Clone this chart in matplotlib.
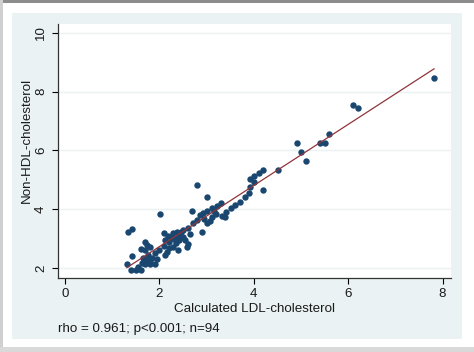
import matplotlib
matplotlib.use("Agg")
import matplotlib.pyplot as plt
import numpy as np
from matplotlib.patches import Rectangle

# 값은 그림에서 읽은 추정치
ldl = [1.31, 1.40, 1.50, 1.60, 1.41, 1.33, 1.41, 1.60, 1.69, 1.79,
       1.69, 1.73, 1.66, 1.73, 1.79, 1.84, 1.62, 1.69, 1.80, 1.91,
       1.91, 2.00, 2.12, 2.10, 2.01, 1.55, 1.75,
       2.10, 2.19, 2.12, 2.20, 2.25, 2.29, 2.37, 2.45, 2.51, 2.61,
       2.20, 2.28, 2.35, 2.40, 2.30, 2.50, 2.55, 2.60, 2.42, 2.65,
       2.71, 2.79, 2.70, 2.80, 2.90, 2.92, 3.00, 3.00, 3.07, 3.11,
       3.01, 2.85, 2.95, 2.58, 2.15, 1.95,
       3.11, 3.21, 3.31, 3.32, 3.39, 3.41, 3.51, 3.60, 3.20, 3.70,
       3.81, 3.90, 3.92, 4.00, 3.92, 4.01, 4.11, 4.20, 4.20, 3.15, 2.40,
       4.51, 4.91, 5.00, 5.11, 5.40, 5.51, 5.60, 6.11, 6.20, 7.82]
non_hdl = [2.12, 1.92, 1.92, 1.92, 2.42, 3.22, 3.32, 2.64, 2.61, 2.70,
           2.89, 2.78, 2.33, 2.27, 2.21, 2.33, 2.16, 2.14, 2.14, 2.14,
           2.50, 2.61, 2.44, 2.75, 3.83, 2.02, 2.45,
           3.18, 3.10, 2.95, 2.90, 3.05, 3.20, 3.24, 3.24, 3.29, 3.35,
           2.68, 2.70, 2.85, 2.60, 3.00, 3.05, 2.95, 2.80, 2.95, 3.15,
           3.54, 3.63, 3.94, 4.82, 3.23, 3.86, 3.95, 3.52, 3.60, 3.75,
           4.43, 3.80, 3.65, 2.70, 2.55, 2.30,
           4.03, 4.11, 4.20, 3.77, 3.72, 3.91, 4.03, 4.14, 3.85, 4.25,
           4.43, 4.54, 4.75, 4.94, 5.03, 5.13, 5.24, 5.33, 4.65, 3.95, 3.10,
           5.33, 6.24, 5.94, 5.64, 6.24, 6.24, 6.55, 7.54, 7.43, 8.45]

x_ticks = [0, 2, 4, 6, 8]
y_ticks = [2, 4, 6, 8, 10]
note = "rho = 0.961; p<0.001; n=94"

plt.rcParams['font.family'] = ['Liberation Sans', 'DejaVu Sans']

W, H = 474, 352
fig = plt.figure(figsize=(W / 100, H / 100), dpi=100)
fig.patch.set_facecolor("white")

def px_rect(x0, y0, x1, y1, color):
    fig.add_artist(Rectangle((x0 / W, 1 - y1 / H), (x1 - x0) / W, (y1 - y0) / H,
                             transform=fig.transFigure, facecolor=color,
                             edgecolor="none", zorder=0))

# 테두리와 그래프 영역 배경
px_rect(0, 0, W, 2.5, "#8c8c8c")
px_rect(0, 0, 3, H, "#d0d0d0")
px_rect(0, 347, W, H, "#d9d9d9")
px_rect(12, 13, 462, 339, "#eaf2f3")

ax = fig.add_axes([58 / W, 1 - 278 / H, (451 - 58) / W, (278 - 24) / H])
ax.set_facecolor("white")

ax.plot(ldl, non_hdl, "o", color="#1a476f", markersize=4.6, markeredgewidth=0, zorder=3)

# 선형 적합선
b, a = np.polyfit(ldl, non_hdl, 1)
xs = np.array([min(ldl), max(ldl)])
ax.plot(xs, a + b * xs, color="#90353b", linewidth=0.9, zorder=4)

ax.set_xlim(-0.15, 8.18)
ax.set_ylim(1.66, 10.30)
ax.set_xticks(x_ticks)
ax.set_yticks(y_ticks)
ax.set_yticklabels([str(v) for v in y_ticks], rotation=90, va="center")
ax.tick_params(axis="both", direction="out", length=4, width=0.8, colors="#000000",
               labelsize=9.6, labelcolor="#1a1a1a")
ax.tick_params(axis="x", pad=3)
ax.tick_params(axis="y", pad=4)
ax.grid(axis="y", color="#eaf2f3", linewidth=1.0, zorder=0)
ax.set_axisbelow(True)
for s in ["top", "right"]:
    ax.spines[s].set_visible(False)
for s in ["left", "bottom"]:
    ax.spines[s].set_linewidth(0.9)
    ax.spines[s].set_color("#333333")

ax.set_xlabel("Calculated LDL-cholesterol", fontsize=9.6, color="#1a1a1a", labelpad=2)
fig.text(27 / W, 1 - 140 / H, "Non-HDL-cholesterol", rotation=90, ha="center",
         va="center", fontsize=9.6, color="#1a1a1a")
fig.text(58 / W, 1 - 329 / H, note, ha="left", va="center", fontsize=9.6, color="#1a1a1a")

fig.savefig("out.png", dpi=100)
